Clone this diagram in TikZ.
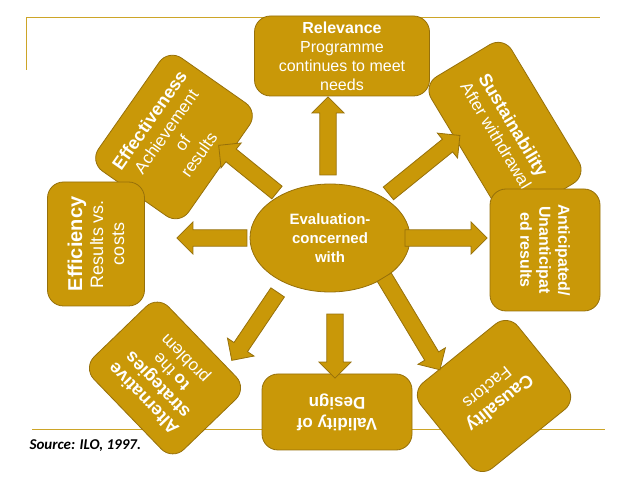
\documentclass[tikz,border=0pt]{standalone}
\usepackage{fontspec}
\setmainfont{Liberation Sans}
\newfontfamily\cali{Carlito}
\usetikzlibrary{shapes.arrows,shapes.geometric}
\definecolor{gold}{RGB}{201,152,8}
\definecolor{golddk}{RGB}{150,112,10}
\definecolor{lineg}{RGB}{205,165,40}
\tikzset{
 box/.style={fill=gold,draw=golddk,line width=0.8pt,rounded corners=16pt,text=white,align=center,font=\fontsize{16}{19}\selectfont,inner sep=2pt},
 barrow/.style={single arrow,fill=gold,draw=golddk,line width=0.8pt,inner sep=0pt,minimum width=32pt,single arrow tip angle=90,text width=0pt,text height=7pt,text depth=7pt},
}
\begin{document}
\begin{tikzpicture}[x=1pt,y=-1pt]
\useasboundingbox (0,0) rectangle (638,478);
\draw[lineg,line width=1pt] (26,70) -- (26,18) -- (600,18);
\draw[lineg,line width=1pt] (32,430) -- (605,430);
\node[anchor=west,font=\cali\bfseries\itshape\fontsize{15}{16}\selectfont] (src) at (26,446) {Source: ILO, 1997.};
% centre
\node[ellipse,fill=gold,draw=golddk,line width=0.8pt,minimum width=160pt,minimum height=108pt,text=white,align=center,font=\bfseries\fontsize{15}{19}\selectfont] (c) at (330,238) {Evaluation-\\concerned\\with};
% boxes
\node[box,minimum width=175pt,minimum height=80pt] (rel) at (342,56) {\textbf{Relevance}\\Programme\\continues to meet\\needs};
\node[box,rotate=55,minimum width=138pt,minimum height=110pt,font=\fontsize{17}{20}\selectfont] (eff) at (174,137) {\textbf{\fontsize{18}{20}\selectfont Effectiveness}\\Achievement\\of\\results};
\node[box,rotate=-59,minimum width=162pt,minimum height=94pt,font=\fontsize{17}{20}\selectfont] (sus) at (505,130) {\textbf{\fontsize{18}{20}\selectfont Sustainability}\\After withdrawal};
\node[box,rotate=90,minimum width=124pt,minimum height=97pt,font=\fontsize{18}{21}\selectfont] (effi) at (96,244) {\textbf{\fontsize{20}{21}\selectfont Efficiency}\\Results vs.\\costs};
\node[box,rotate=-90,minimum width=122pt,minimum height=110pt,font=\bfseries\fontsize{16}{19}\selectfont] (ant) at (545,250) {Anticipated/\\Unanticipat\\ed results};
\node[box,rotate=134,minimum width=129pt,minimum height=104pt,font=\fontsize{17}{19}\selectfont] (alt) at (165,378) {\textbf{\fontsize{18}{19}\selectfont Alternative}\\\textbf{\fontsize{18}{19}\selectfont strategies}\\\textbf{to} the\\problem};
\node[box,rotate=180,minimum width=150pt,minimum height=76pt,font=\bfseries\fontsize{17}{21}\selectfont] (val) at (337,412) {Validity of\\Design};
\node[box,rotate=-141,minimum width=125pt,minimum height=110pt,font=\fontsize{17}{20}\selectfont] (cau) at (494,396) {\textbf{\fontsize{18}{20}\selectfont Causality}\\Factors};
% arrows
\node[barrow,rotate=90,minimum height=78pt] (r1) at (328,140) {};
\node[barrow,rotate=141,minimum height=75pt] (r2) at (251,171.5) {};
\node[barrow,rotate=39,minimum height=92pt] (r3) at (421,167) {};
\node[barrow,rotate=180,minimum height=70pt] (r4) at (216,238) {};
\node[barrow,rotate=0,minimum height=82pt] (r5) at (442,238) {};
\node[barrow,rotate=-124,minimum height=82pt] (r6) at (257,323) {};
\node[barrow,rotate=-90,minimum height=64pt] (r7) at (335,342) {};
\node[barrow,rotate=-59,minimum height=108pt] (r8) at (410,320) {};
\end{tikzpicture}
\end{document}
